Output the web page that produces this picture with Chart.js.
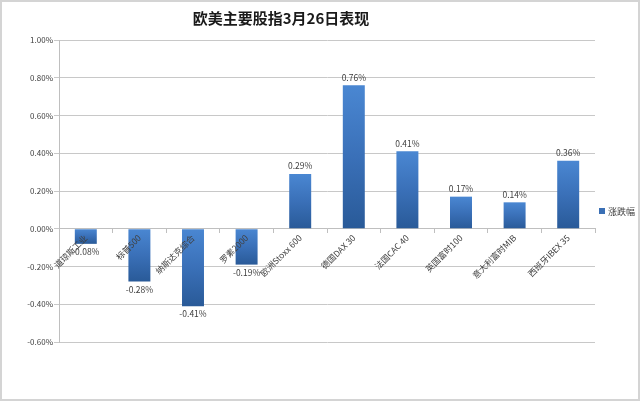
<!DOCTYPE html>
<html>
<head>
<meta charset="utf-8">
<script src="https://cdn.jsdelivr.net/npm/chart.js@4"></script>
<style>
  html, body { margin: 0; padding: 0; background: #fff; }
  #wrap { width: 640px; height: 401px; }
</style>
</head>
<body>
<div id="wrap"><canvas id="c" width="640" height="401"></canvas></div>
<script>
// 数据
const categories = ['道琼斯工业', '标普500', '纳斯达克综合', '罗素2000', '欧洲Stoxx 600',
                    '德国DAX 30', '法国CAC 40', '英国富时100', '意大利富时MIB', '西班牙IBEX 35'];
const changes = [-0.08, -0.28, -0.41, -0.19, 0.29, 0.76, 0.41, 0.17, 0.14, 0.36];
const seriesName = '涨跌幅';
const titleText = '欧美主要股指3月26日表现';

const FONT = '"Noto Sans CJK SC", "Noto Sans", sans-serif';

// 막대 그라데이션 (y 스케일에서 위치 계산)
function barFill(ctx) {
    const chart = ctx.chart;
    const ys = chart.scales && chart.scales.y;
    if (!chart.chartArea || !ys || ctx.raw === undefined) return '#3a6fb5';
    const a = ys.getPixelForValue(ctx.raw);
    const b = ys.getPixelForValue(0);
    const top = Math.min(a, b), bottom = Math.max(a, b);
    if (!isFinite(top) || bottom - top < 1) return '#3a6fb5';
    const g = chart.ctx.createLinearGradient(0, top, 0, bottom);
    g.addColorStop(0, '#4a87d2');
    g.addColorStop(0.5, '#3a70b8');
    g.addColorStop(1, '#295a98');
    return g;
}

// 제목, 범례, 테두리, 데이터 레이블
const decor = {
    id: 'decor',
    beforeDraw(chart) {
        const c = chart.ctx;
        c.save();
        c.fillStyle = '#fff';
        c.fillRect(0, 0, chart.width, chart.height);
        c.strokeStyle = '#d4d4d4';
        c.lineWidth = 2;
        c.strokeRect(1, 1, chart.width - 2, chart.height - 2);
        c.restore();
    },
    afterDraw(chart) {
        const c = chart.ctx;
        c.save();
        // title
        c.font = 'bold 15px ' + FONT;
        c.fillStyle = '#1a1a1a';
        c.textAlign = 'center';
        c.textBaseline = 'middle';
        c.fillText(titleText, 281, 18);
        // legend
        c.fillStyle = '#3a6fb5';
        c.fillRect(599, 208, 6, 6);
        c.font = '9px ' + FONT;
        c.fillStyle = '#404040';
        c.textAlign = 'left';
        c.fillText(seriesName, 608, 211.5);
        // data labels
        const meta = chart.getDatasetMeta(0);
        c.font = '8.5px ' + FONT;
        c.textAlign = 'center';
        meta.data.forEach((bar, i) => {
            const v = changes[i];
            const txt = v.toFixed(2) + '%';
            const y = v >= 0 ? bar.y - 8 : bar.y + 8;
            c.fillText(txt, bar.x, y);
        });
        c.restore();
    }
};

new Chart(document.getElementById('c'), {
    type: 'bar',
    data: {
        labels: categories,
        datasets: [{
            label: seriesName,
            data: changes,
            backgroundColor: barFill,
            barPercentage: 0.41,
            categoryPercentage: 1
        }]
    },
    options: {
        responsive: false,
        animation: false,
        layout: { padding: { left: 0, right: 45, top: 40, bottom: 59 } },
        plugins: {
            legend: { display: false },
            title: { display: false },
            tooltip: { enabled: false }
        },
        scales: {
            x: {
                position: { y: 0 },
                grid: {
                    offset: true,
                    drawOnChartArea: false,
                    drawTicks: true,
                    tickLength: 4,
                    color: '#bfbfbf'
                },
                border: { display: true, color: '#bfbfbf' },
                ticks: {
                    z: 1,
                    minRotation: 45,
                    maxRotation: 45,
                    padding: 0,
                    autoSkip: false,
                    color: '#404040',
                    font: { family: FONT, size: 8.5 }
                }
            },
            y: {
                min: -0.6,
                max: 1.0,
                afterFit(scale) { scale.width = 59; },
                grid: {
                    color: '#c8c8c8',
                    tickLength: 5,
                    drawTicks: true
                },
                border: { display: true, color: '#bfbfbf' },
                ticks: {
                    stepSize: 0.2,
                    padding: 1,
                    color: '#404040',
                    font: { family: FONT, size: 8 },
                    callback: v => v.toFixed(2) + '%'
                }
            }
        }
    },
    plugins: [decor]
});
</script>
</body>
</html>
